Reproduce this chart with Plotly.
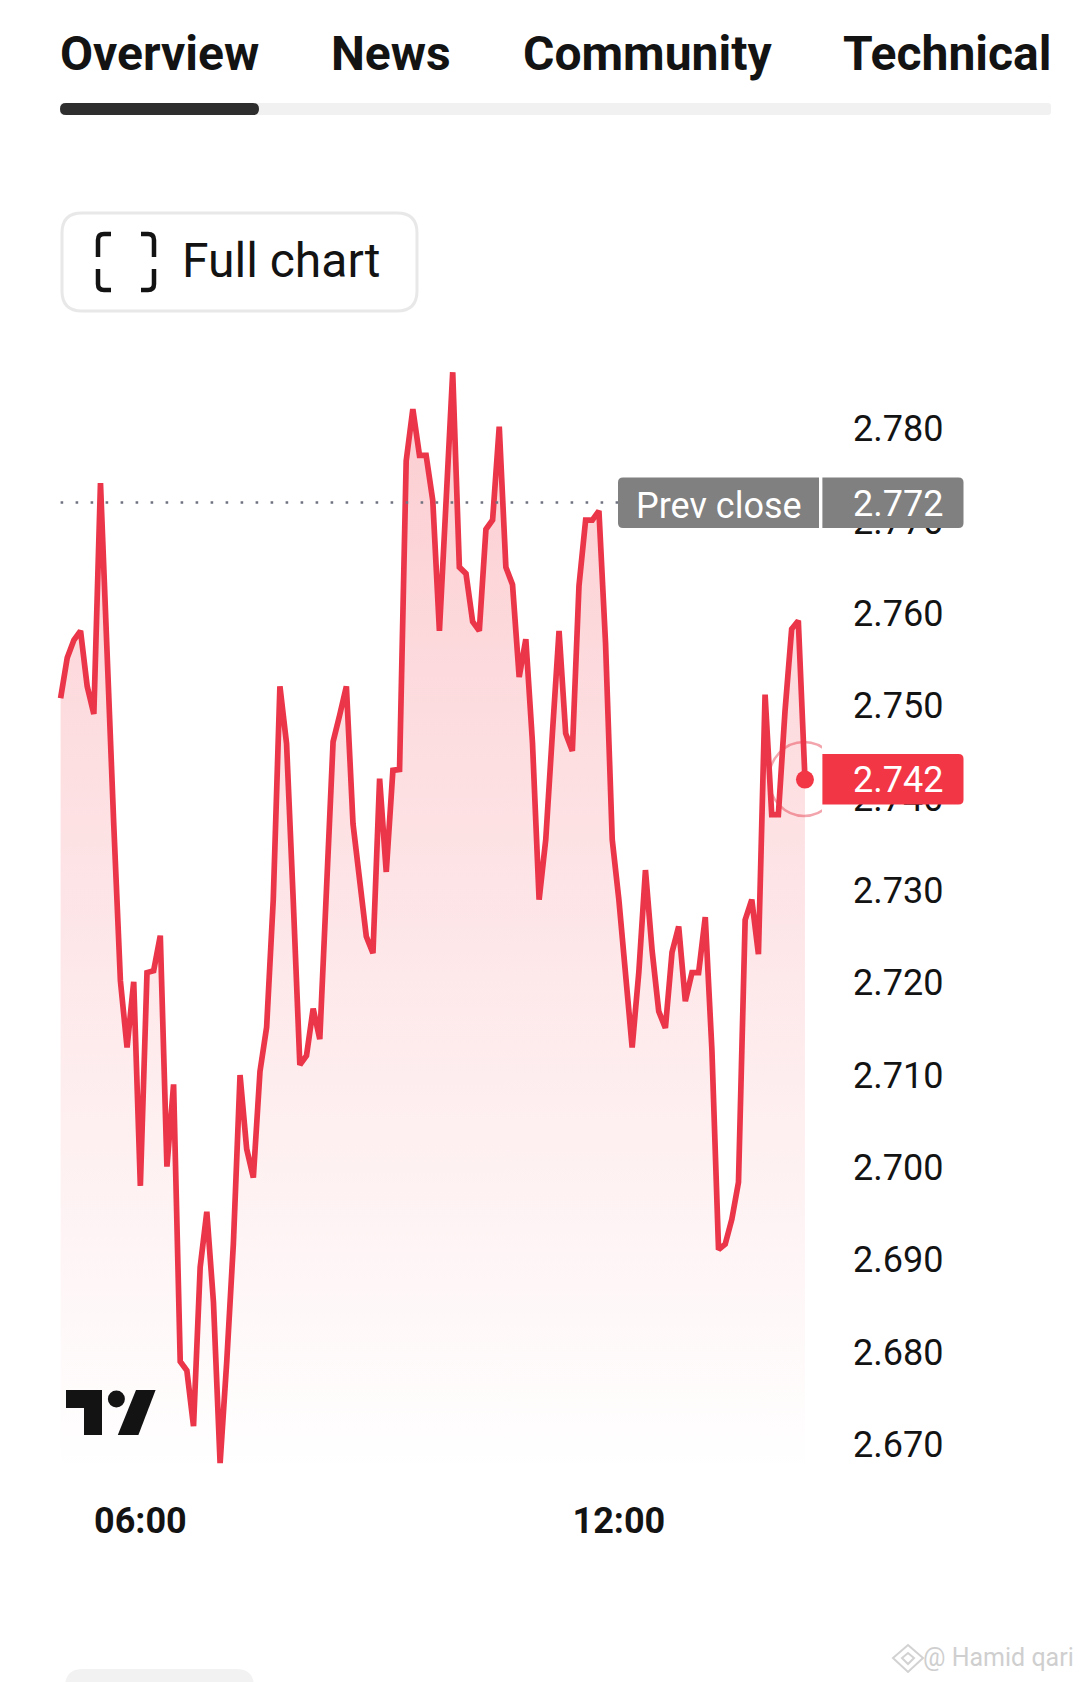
import pandas as pd
import plotly.graph_objects as go

# ---------- data ----------
tab_labels = ["Overview", "News", "Community", "Technical"]
button_label = "Full chart"
prev_close_label = "Prev close"
prev_close = 2.772
last_price = 2.742
watermark = "@ Hamid qari"
x_tick_times = ["2024-01-02 06:00", "2024-01-02 12:00"]
x_tick_labels = ["06:00", "12:00"]
y_ticks = [2.67, 2.68, 2.69, 2.70, 2.71, 2.72, 2.73, 2.74, 2.75, 2.76, 2.77, 2.78]
y_tick_labels = ["2.670", "2.680", "2.690", "2.700", "2.710", "2.720", "2.730",
                 "2.740", "2.750", "2.760", "2.770", "2.780"]
prices = [
    2.7508, 2.7552, 2.7571, 2.7581, 2.7521, 2.7491, 2.7741, 2.7543, 2.7371, 2.7202,
    2.7130, 2.7201, 2.6980, 2.7211, 2.7213, 2.7251, 2.7001, 2.7090, 2.6790, 2.6780,
    2.6720, 2.6892, 2.6952, 2.6854, 2.6680, 2.6790, 2.6918, 2.7100, 2.7020, 2.6989,
    2.7104, 2.7152, 2.7290, 2.7521, 2.7459, 2.7290, 2.7111, 2.7121, 2.7172, 2.7139,
    2.7300, 2.7461, 2.7490, 2.7521, 2.7372, 2.7308, 2.7250, 2.7232, 2.7421, 2.7320,
    2.7430, 2.7431, 2.7765, 2.7821, 2.7771, 2.7771, 2.7722, 2.7581, 2.7722, 2.7861,
    2.7650, 2.7643, 2.7591, 2.7581, 2.7691, 2.7701, 2.7802, 2.7650, 2.7631, 2.7531,
    2.7572, 2.7460, 2.7290, 2.7355, 2.7470, 2.7581, 2.7470, 2.7451, 2.7630, 2.7701,
    2.7701, 2.7711, 2.7567, 2.7355, 2.7290, 2.7203, 2.7130, 2.7211, 2.7322, 2.7235,
    2.7169, 2.7151, 2.7233, 2.7261, 2.7180, 2.7211, 2.7211, 2.7271, 2.7127, 2.6911,
    2.6917, 2.6944, 2.6984, 2.7268, 2.7290, 2.7231, 2.7512, 2.7382, 2.7382, 2.7494,
    2.7583, 2.7592, 2.7421,
]
times = pd.date_range("2024-01-02 05:00", periods=len(prices), freq="5min")

# ---------- layout constants ----------
W, H = 1080, 1682
PLOT_R = 852
PLOT_B = 1496
PX_PER_MIN = 1.3292
X0_PX = 60.6
Y780_PX = 428.6
PX_PER_UNIT = 9236.0
RED = "#F23645"
LINE = "#EB3549"
GREY = "#808080"
INK = "#131313"

x_left = times[0] - pd.Timedelta(minutes=X0_PX / PX_PER_MIN)
x_right = times[0] + pd.Timedelta(minutes=(PLOT_R - X0_PX) / PX_PER_MIN)
y_top = 2.78 + Y780_PX / PX_PER_UNIT
y_bot = 2.78 - (PLOT_B - Y780_PX) / PX_PER_UNIT


def px(x):
    return x / W


def py(y):
    return 1 - y / H


def path(points, close=True):
    s = "M " + " L ".join(f"{px(x):.5f},{py(y):.5f}" for x, y in points)
    return s + (" Z" if close else "")


def rrect(x0, y0, x1, y1, tl=0, tr=0, br=0, bl=0):
    def P(x, y):
        return f"{px(x):.5f},{py(y):.5f}"
    return (f"M {P(x0 + tl, y0)} L {P(x1 - tr, y0)} Q {P(x1, y0)} {P(x1, y0 + tr)} "
            f"L {P(x1, y1 - br)} Q {P(x1, y1)} {P(x1 - br, y1)} "
            f"L {P(x0 + bl, y1)} Q {P(x0, y1)} {P(x0, y1 - bl)} "
            f"L {P(x0, y0 + tl)} Q {P(x0, y0)} {P(x0 + tl, y0)} Z")


def shp_path(d, fill=None, line=None, width=0, layer="above"):
    return dict(type="path", xref="paper", yref="paper", path=d,
                fillcolor=fill if fill else "rgba(0,0,0,0)",
                line=dict(color=line if line else "rgba(0,0,0,0)", width=width),
                layer=layer)


def circle(cx, cy, rx, ry, fill=None, line=None, width=0, layer="above"):
    return dict(type="circle", xref="paper", yref="paper",
                x0=px(cx - rx), x1=px(cx + rx), y0=py(cy + ry), y1=py(cy - ry),
                fillcolor=fill if fill else "rgba(0,0,0,0)",
                line=dict(color=line if line else "rgba(0,0,0,0)", width=width),
                layer=layer)


def text(t, x, y, size, color=INK, weight=400, anchor="left", family="Roboto"):
    return dict(text=t, x=px(x), y=py(y), xref="paper", yref="paper", showarrow=False,
                xanchor=anchor, yanchor="middle",
                font=dict(family=family, size=size, color=color, weight=weight))


def corner(x0, y0, xc, yc, x1, y1):
    return (f"M {px(x0):.5f},{py(y0):.5f} L {px(xc):.5f},{py(yc + (6 if y0 > yc else -6)):.5f} "
            f"Q {px(xc):.5f},{py(yc):.5f} {px(xc + (6 if x1 > xc else -6)):.5f},{py(yc):.5f} "
            f"L {px(x1):.5f},{py(y1):.5f}")


fig = go.Figure()

fig.add_trace(go.Scatter(
    x=times, y=prices, mode="lines", hoverinfo="skip", showlegend=False,
    line=dict(color=LINE, width=5.7, shape="linear"),
    fill="tozeroy",
    fillgradient=dict(type="vertical", start=2.667, stop=2.786,
                      colorscale=[[0, "rgba(242,54,69,0)"], [1, "rgba(242,54,69,0.25)"]]),
))
fig.add_trace(go.Scatter(
    x=[times[0], times[0] + pd.Timedelta(minutes=(618 - X0_PX) / PX_PER_MIN)],
    y=[prev_close, prev_close], mode="lines", hoverinfo="skip", showlegend=False,
    line=dict(color="#6F7280", width=2.6, dash="2.6px,12.4px"),
))
fig.add_trace(go.Scatter(
    x=[times[-1]], y=[last_price], mode="markers", hoverinfo="skip", showlegend=False,
    marker=dict(color=RED, size=18), cliponaxis=False,
))

icon = dict(line=INK, width=4.5)
shapes = [
    # tab scroller
    shp_path(rrect(60, 103, 1051, 115, 3, 3, 3, 3), fill="#F1F1F1"),
    shp_path(rrect(60, 103, 259, 115, 6, 6, 6, 6), fill="#2E2E2E"),
    # button
    shp_path(rrect(62, 213, 417, 311, 20, 20, 20, 20), fill="#FFFFFF", line="#E8E8E8", width=3),
    # button icon corners
    shp_path(corner(98, 257, 98, 234, 111, 234), **icon),
    shp_path(corner(154, 257, 154, 234, 141, 234), **icon),
    shp_path(corner(98, 269, 98, 290, 111, 290), **icon),
    shp_path(corner(154, 269, 154, 290, 141, 290), **icon),
    # TradingView logo
    shp_path(path([(66, 1390), (102, 1390), (102, 1435), (84, 1435), (84, 1408), (66, 1408)]), fill=INK),
    circle(116.4, 1399, 8.5, 8.5, fill=INK),
    shp_path(path([(136, 1390), (155.6, 1390), (138.4, 1435), (117.8, 1435)]), fill=INK),
    # pulse ring around the last point, behind the line and cut by the tag column
    circle(804, 779, 35, 37, line="#F3A5AD", width=2.5, layer="below"),
    shp_path(rrect(822, 738, 846, 822), fill="#FFFFFF", layer="below"),
    # price tags
    shp_path(rrect(618, 477.5, 819, 528, 5, 0, 0, 5), fill=GREY),
    shp_path(rrect(822.4, 477.5, 963.5, 528, 0, 5, 5, 0), fill=GREY),
    shp_path(rrect(822.4, 754, 963.5, 804.5, 0, 5, 5, 0), fill=RED),
    # bottom pill
    shp_path(rrect(65, 1669, 254, 1690, 18, 18, 0, 0), fill="#F2F2F2"),
    # watermark logo
    shp_path(path([(908, 1645), (923, 1658), (908, 1672), (893, 1658)]), line="#D2D2D2", width=2),
    shp_path(path([(908, 1653), (914, 1658), (908, 1664), (902, 1658)]), line="#D2D2D2", width=2),
]

annotations = [
    text(tab_labels[0], 57.5, 54, 48, weight=700),
    text(tab_labels[1], 329, 54, 48, weight=700),
    text(tab_labels[2], 520.5, 54, 48, weight=700),
    text(tab_labels[3], 841, 54, 48, weight=700),
    text(button_label, 180, 261, 48),
    text(prev_close_label, 634, 506, 36, color="#FFFFFF"),
    text(f"{prev_close:.3f}", 851, 504, 36, color="#FFFFFF"),
    text(f"{last_price:.3f}", 851, 780, 36, color="#FFFFFF"),
    text(watermark, 921, 1657, 25, color="#CFCFCF"),
]

fig.update_layout(
    width=W, height=H, margin=dict(l=0, r=0, t=0, b=0),
    paper_bgcolor="#FFFFFF", plot_bgcolor="rgba(0,0,0,0)", showlegend=False,
    shapes=shapes, annotations=annotations,
    xaxis=dict(
        domain=[0, PLOT_R / W], range=[x_left, x_right], type="date",
        tickmode="array", tickvals=x_tick_times, ticktext=x_tick_labels,
        showgrid=False, zeroline=False, showline=False, ticks="",
        tickfont=dict(family="Roboto", size=36, color=INK, weight=700),
    ),
    yaxis=dict(
        domain=[(H - PLOT_B) / H, 1], range=[y_bot, y_top], side="right",
        tickmode="array", tickvals=y_ticks, ticktext=y_tick_labels,
        showgrid=False, zeroline=False, showline=False, ticks="",
        tickfont=dict(family="Roboto", size=36, color=INK),
    ),
)

fig.write_html("out.html", config=dict(displayModeBar=False),
               post_script="document.body.style.margin='0';document.body.style.overflow='hidden';")
